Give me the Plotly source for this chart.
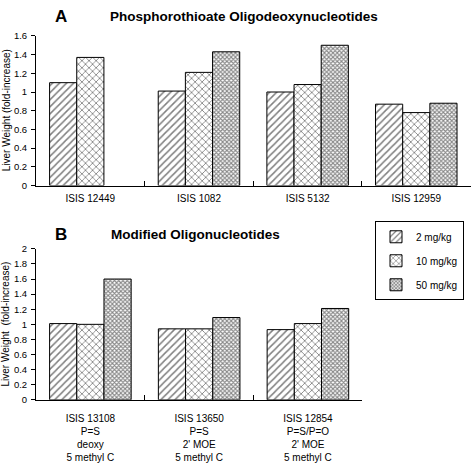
import plotly.graph_objects as go

FONT = "Liberation Sans, Arial, Helvetica, sans-serif"
W, H = 474, 463

# Panel A data
cats_a = ["ISIS 12449", "ISIS 1082", "ISIS 5132", "ISIS 12959"]
a_2 = [1.10, 1.01, 1.00, 0.87]
a_10 = [1.37, 1.21, 1.08, 0.78]
a_50 = [None, 1.43, 1.50, 0.88]

# Panel B data
cats_b = [
    "ISIS 13108<br>P=S<br>deoxy<br>5 methyl C",
    "ISIS 13650<br>P=S<br>2' MOE<br>5 methyl C",
    "ISIS 12854<br>P=S/P=O<br>2' MOE<br>5 methyl C",
]
b_2 = [1.01, 0.94, 0.93]
b_10 = [1.00, 0.94, 1.01]
b_50 = [1.60, 1.09, 1.21]

series_names = ["2 mg/kg", "10 mg/kg", "50 mg/kg"]
patterns = [
    dict(shape="/", size=5, solidity=0.3, fgcolor="black", bgcolor="white", fillmode="overlay"),
    dict(shape="x", size=5, solidity=0.3, fgcolor="black", bgcolor="white", fillmode="overlay"),
    dict(shape="x", size=3, solidity=0.6, fgcolor="#111111", bgcolor="white", fillmode="overlay"),
]

fig = go.Figure()
for i, (name, ya, yb) in enumerate(zip(series_names, [a_2, a_10, a_50], [b_2, b_10, b_50])):
    marker = dict(color="white", pattern=patterns[i], line=dict(color="black", width=1))
    fig.add_trace(go.Bar(x=cats_a, y=ya, name=name, marker=marker, xaxis="x", yaxis="y",
                         legendgroup=name, showlegend=True, hoverinfo="skip"))
    fig.add_trace(go.Bar(x=cats_b, y=yb, name=name, marker=marker, xaxis="x2", yaxis="y2",
                         legendgroup=name, showlegend=False, hoverinfo="skip"))

def px(x):
    return x / W

def py(y):
    return 1 - y / H

line_common = dict(showline=True, linecolor="black", linewidth=1, showgrid=False, zeroline=False)
xtick_font = dict(family=FONT, size=10, color="black")
ytick_font = dict(family=FONT, size=9.5, color="black")

fig.update_layout(
    width=W, height=H,
    margin=dict(l=0, r=0, t=0, b=0),
    paper_bgcolor="white", plot_bgcolor="white",
    barmode="group", bargap=0.25, bargroupgap=0,
    font=dict(family=FONT, size=10, color="black"),
    xaxis=dict(domain=[px(36), px(470.6)], anchor="y", ticks="inside", ticklen=5, tickson="boundaries",
               tickcolor="black", tickfont=xtick_font, ticklabelstandoff=3, **line_common),
    yaxis=dict(domain=[py(184.3), py(30.7)], anchor="x", range=[0, 1.6], dtick=0.2,
               ticks="outside", ticklen=4, tickcolor="black", tickformat="~g",
               tickfont=ytick_font, ticklabelstandoff=2, **line_common),
    xaxis2=dict(domain=[px(36), px(362.3)], anchor="y2", ticks="inside", ticklen=5, tickson="boundaries",
                tickcolor="black", tickfont=xtick_font, ticklabelstandoff=9, **line_common),
    yaxis2=dict(domain=[py(404.3), py(249.3)], anchor="x2", range=[0, 2], dtick=0.2,
                ticks="outside", ticklen=4, tickcolor="black", tickformat="~g",
                tickfont=ytick_font, ticklabelstandoff=2, **line_common),
    legend=dict(x=px(375), y=py(221), xanchor="left", yanchor="top",
                bordercolor="black", borderwidth=1, bgcolor="white",
                font=dict(family=FONT, size=10, color="black"),
                tracegroupgap=5, itemwidth=30),
    annotations=[
        dict(text="<b>A</b>", x=px(60.5), y=py(11), xref="paper", yref="paper", showarrow=False,
             font=dict(family=FONT, size=17), xanchor="center", yanchor="middle"),
        dict(text="<b>Phosphorothioate Oligodeoxynucleotides</b>", x=px(108), y=py(11), xref="paper",
             yref="paper", showarrow=False, font=dict(family=FONT, size=13.5), xanchor="left", yanchor="middle"),
        dict(text="<b>B</b>", x=px(61), y=py(235), xref="paper", yref="paper", showarrow=False,
             font=dict(family=FONT, size=17), xanchor="center", yanchor="middle"),
        dict(text="<b>Modified Oligonucleotides</b>", x=px(109), y=py(235), xref="paper",
             yref="paper", showarrow=False, font=dict(family=FONT, size=13.5), xanchor="left", yanchor="middle"),
        dict(text="Liver Weight (fold-increase)", x=px(6), y=py(107), xref="paper", yref="paper",
             showarrow=False, textangle=-90, font=dict(family=FONT, size=10), xanchor="center", yanchor="middle"),
        dict(text="Liver Weight  (fold-increase)", x=px(6), y=py(327), xref="paper", yref="paper",
             showarrow=False, textangle=-90, font=dict(family=FONT, size=10), xanchor="center", yanchor="middle"),
    ],
)

fig.write_html("out.html", config={"displayModeBar": False},
               post_script="document.body.style.margin='0';document.body.style.padding='0';")
